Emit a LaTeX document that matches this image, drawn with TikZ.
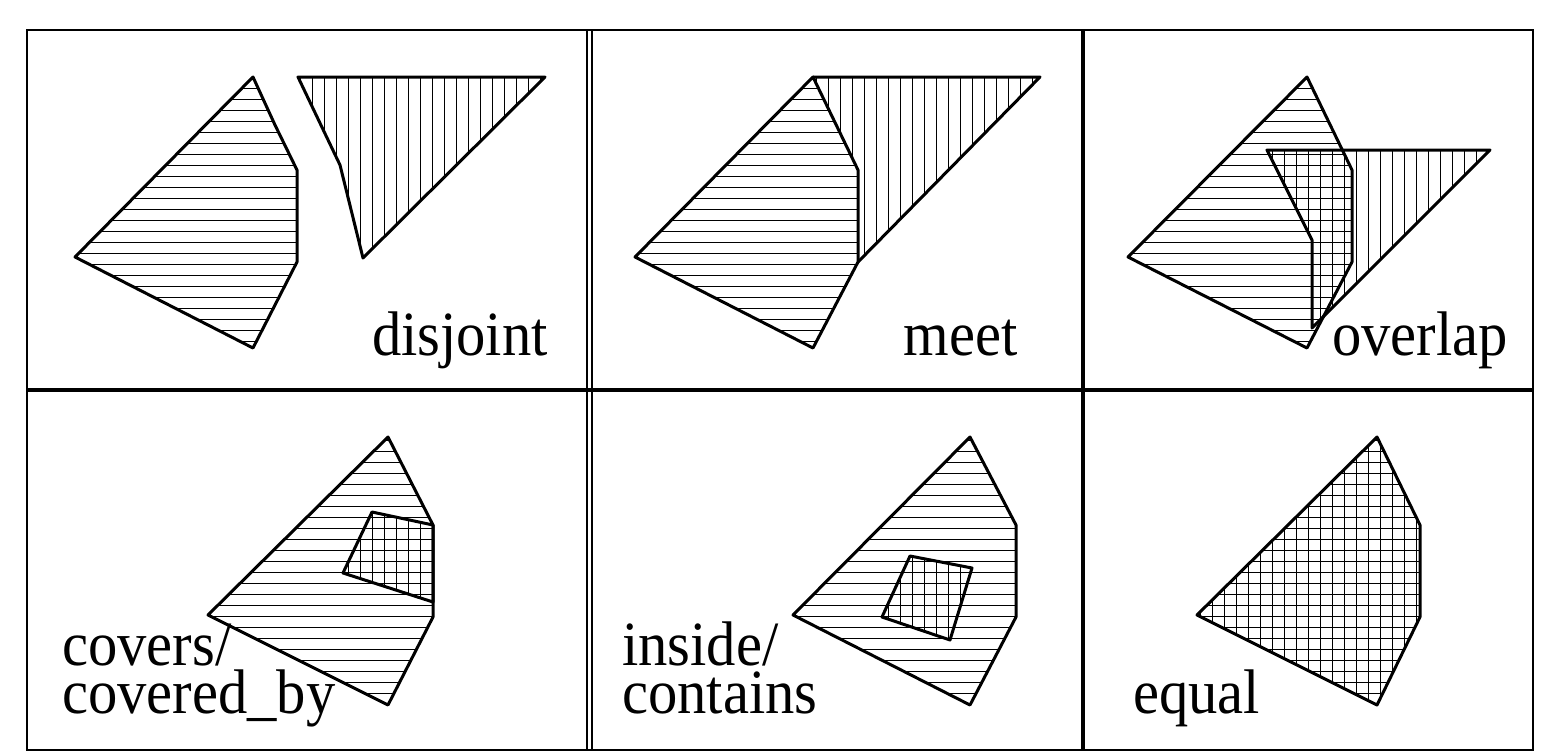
\documentclass[tikz,border=0pt]{standalone}
\usepackage{fontspec}
\setmainfont{Liberation Serif}
\begin{document}
\begin{tikzpicture}[x=1pt,y=-1pt,
  edge/.style={line width=3pt,line join=round},
  hatch/.style={line width=0.6pt},
  lbl/.style={inner sep=0pt,font=\fontsize{63}{63}\selectfont,xscale=0.93}]
\useasboundingbox (0,0) rectangle (1553,753);
\newcommand{\hh}[1]{\begin{scope}\clip #1; \foreach \y in {0,11,...,753} \draw[hatch] (0,\y) -- (1553,\y); \end{scope}}
\newcommand{\vv}[1]{\begin{scope}\clip #1; \foreach \x in {0,12,...,1553} \draw[hatch] (\x,0) -- (\x,753); \end{scope}}
% frame
\draw[line width=2.5pt] (27,30) rectangle (1533,750);
\draw[line width=4pt] (27,390) -- (1533,390);
\draw[line width=2pt] (587,30) -- (587,750);
\draw[line width=2pt] (592,30) -- (592,750);
\draw[line width=4pt] (1083,30) -- (1083,750);
% panel 1
\hh{(253,77)--(275,125)--(297,170)--(297,262)--(253,348)--(75,257)--cycle}
\vv{(298,77)--(545,77)--(363,258)--(340,165)--cycle}
\draw[edge] (253,77)--(275,125)--(297,170)--(297,262)--(253,348)--(75,257)--cycle;
\draw[edge] (298,77)--(545,77)--(363,258)--(340,165)--cycle;
\node[lbl,anchor=base east] (t1) at (548,355) {disjoint};
% panel 2
\hh{(813,77)--(858,170)--(858,262)--(813,348)--(635,257)--cycle}
\vv{(813,77)--(1040,77)--(858,262)--(858,170)--cycle}
\draw[edge] (813,77)--(858,170)--(858,262)--(813,348)--(635,257)--cycle;
\draw[edge] (813,77)--(1040,77)--(858,262);
\node[lbl,anchor=base east] (t2) at (1018,355) {meet};
% panel 3
\hh{(1307,77)--(1352,170)--(1352,262)--(1307,348)--(1128,257)--cycle}
\vv{(1267,150)--(1490,150)--(1312,328)--(1312,240)--cycle}
\draw[edge] (1307,77)--(1352,170)--(1352,262)--(1307,348)--(1128,257)--cycle;
\draw[edge] (1267,150)--(1490,150)--(1312,328)--(1312,240)--cycle;
\node[lbl,anchor=base east] (t3) at (1508,355) {overlap};
% panel 4
\hh{(388,437)--(433,525)--(433,617)--(388,705)--(208,615)--cycle}
\vv{(372,512)--(433,525)--(433,602)--(343,573)--cycle}
\draw[edge] (388,437)--(433,525)--(433,617)--(388,705)--(208,615)--cycle;
\draw[edge] (372,512)--(433,525)--(433,602)--(343,573)--cycle;
\node[lbl,anchor=base west] (t4a) at (62,665) {covers/};
\node[lbl,anchor=base west] (t4b) at (62,713) {covered\_by};
% panel 5
\hh{(970,437)--(1016,525)--(1016,617)--(970,705)--(793,615)--cycle}
\vv{(910,556)--(972,568)--(950,640)--(882,617)--cycle}
\draw[edge] (970,437)--(1016,525)--(1016,617)--(970,705)--(793,615)--cycle;
\draw[edge] (910,556)--(972,568)--(950,640)--(882,617)--cycle;
\node[lbl,anchor=base west] (t5a) at (622,665) {inside/};
\node[lbl,anchor=base west] (t5b) at (622,713) {contains};
% panel 6
\hh{(1377,437)--(1420,525)--(1420,617)--(1377,705)--(1197,615)--cycle}
\vv{(1377,437)--(1420,525)--(1420,617)--(1377,705)--(1197,615)--cycle}
\draw[edge] (1377,437)--(1420,525)--(1420,617)--(1377,705)--(1197,615)--cycle;
\node[lbl,anchor=base west] (t6) at (1133,713) {equal};
\end{tikzpicture}
\end{document}
